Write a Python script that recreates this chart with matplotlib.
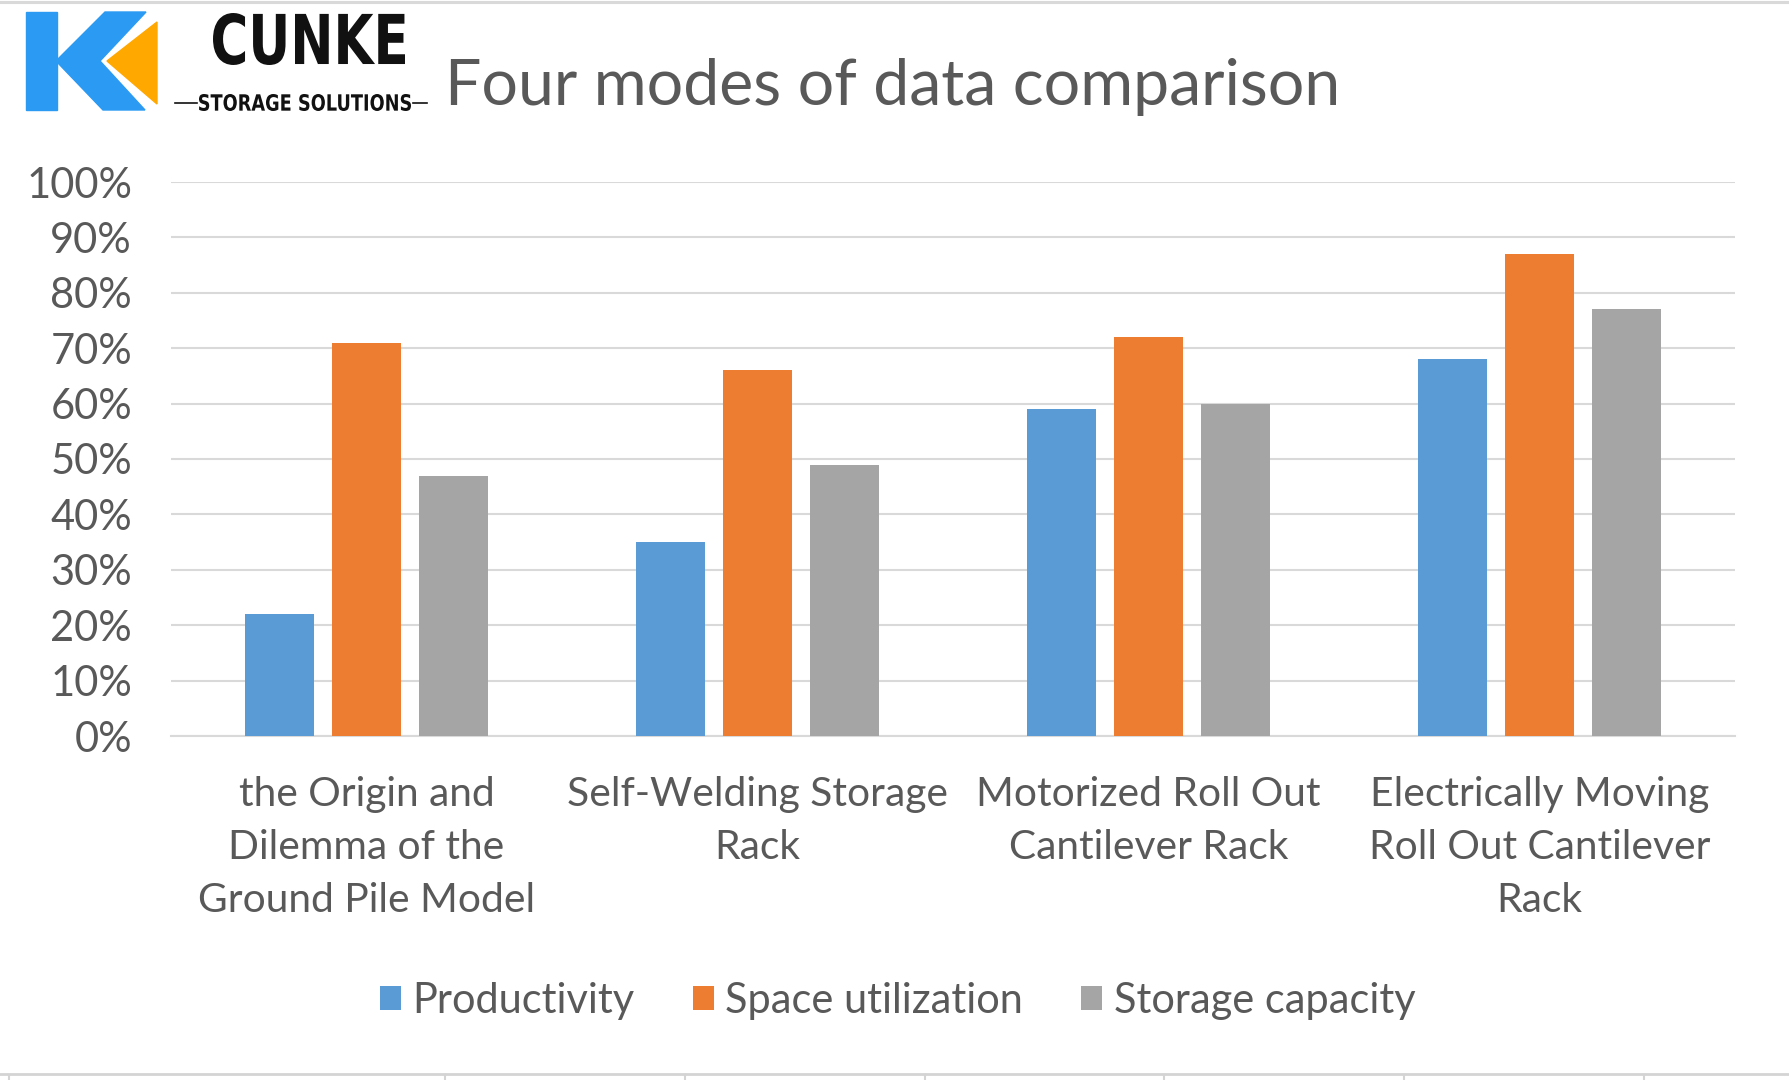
import numpy as np
import matplotlib
matplotlib.use("Agg")
import matplotlib.pyplot as plt
from matplotlib.patches import Polygon, PathPatch
from matplotlib.lines import Line2D
from matplotlib.textpath import TextPath
from matplotlib.font_manager import FontProperties
from matplotlib.transforms import Affine2D, IdentityTransform
from matplotlib.ticker import PercentFormatter

# data
categories = ["the Origin and\nDilemma of the\nGround Pile Model",
              "Self-Welding Storage\nRack",
              "Motorized Roll Out\nCantilever Rack",
              "Electrically Moving\nRoll Out Cantilever\nRack"]
series_names = ["Productivity", "Space utilization", "Storage capacity"]
productivity = [22, 35, 59, 68]
space_utilization = [71, 66, 72, 87]
storage_capacity = [47, 49, 60, 77]
y_ticks = [0, 10, 20, 30, 40, 50, 60, 70, 80, 90, 100]

colors = ["#5B9BD5", "#ED7D31", "#A5A5A5"]
text_col = "#595959"
grid_col = "#D9D9D9"

plt.rcParams["font.family"] = ["Lato", "DejaVu Sans"]

W, H = 1790, 1080
fig = plt.figure(figsize=(W / 100, H / 100), dpi=100)
fig.patch.set_facecolor("white")

# axes placed in pixel coords (top-down)
left, right, top, bottom = 171, 1735, 182, 736
ax = fig.add_axes([left / W, 1 - bottom / H, (right - left) / W, (bottom - top) / H])

x = np.arange(len(categories))
step, width = 0.222, 0.175
for i, (vals, col, name) in enumerate(zip([productivity, space_utilization, storage_capacity],
                                          colors, series_names)):
    ax.bar(x + (i - 1) * step, vals, width, color=col, label=name, zorder=3)

ax.set_xlim(-0.5, len(categories) - 0.5)
ax.set_ylim(0, 100)
ax.set_yticks(y_ticks)
ax.yaxis.set_major_formatter(PercentFormatter(decimals=0))
ax.grid(axis="y", color=grid_col, lw=1.5)
ax.set_axisbelow(True)
ax.axhline(0, color=grid_col, lw=1.5, zorder=2, clip_on=False)
for s in ax.spines.values():
    s.set_visible(False)
ax.tick_params(length=0, colors=text_col)
ax.tick_params(axis="y", pad=28, labelsize=30)
ax.tick_params(axis="x", pad=29, labelsize=29.3)
ax.set_xticks(x)
ax.set_xticklabels(categories, linespacing=1.53)

fig.legend(loc="center", bbox_to_anchor=(0.5015, 1 - 1001 / H), ncol=3, frameon=False,
           fontsize=29.9, handlelength=0.5, handleheight=0.5, handletextpad=0.28,
           columnspacing=1.4, labelcolor=text_col)

fig.text(445 / W, 1 - 105 / H, "Four modes of data comparison", fontsize=46.4,
         color=text_col, va="baseline", ha="left")

# ---- logo ----
pix = IdentityTransform()


def flip(pts):
    return [(px, H - py) for px, py in pts]


stem = [(26, 12), (57, 12), (57, 110), (26, 110)]
arms = [(57, 60), (105, 12), (146, 12), (100, 61), (145, 110), (103, 110), (57, 62)]
tri = [(107, 61), (157, 22), (157, 104)]
fig.add_artist(Polygon(flip(stem), closed=True, color="#2A9AF3", transform=pix))
fig.add_artist(Polygon(flip(arms), closed=True, color="#2A9AF3", transform=pix))
fig.add_artist(Polygon(flip(tri), closed=True, color="#FFA800", transform=pix))


def text_box(s, x0, y0, x1, y1, color="#111111"):
    # text squeezed into a pixel box, like the condensed logo font
    tp = TextPath((0, 0), s, size=100, prop=FontProperties(family="DejaVu Sans", weight="bold"))
    ext = tp.get_extents()
    tr = (Affine2D().translate(-ext.x0, -ext.y0)
          .scale((x1 - x0) / ext.width, (y1 - y0) / ext.height)
          .translate(x0, H - y1))
    fig.add_artist(PathPatch(tr.transform_path(tp), color=color, lw=0, transform=pix))


text_box("CUNKE", 213, 13, 405, 65)
text_box("STORAGE SOLUTIONS", 199, 94, 411, 111)
fig.add_artist(Line2D([175, 197], [H - 103, H - 103], color="#111111", lw=1.2, transform=pix))
fig.add_artist(Line2D([413, 427], [H - 103, H - 103], color="#111111", lw=1.2, transform=pix))

# sheet borders
fig.add_artist(Line2D([0, W], [H - 1.5, H - 1.5], color="#D9D9D9", lw=2.2, transform=pix))
fig.add_artist(Line2D([0, W], [H - 1074, H - 1074], color="#D4D4D4", lw=2.0, transform=pix))
for vx in [9, 445, 685, 925, 1164, 1404, 1644]:
    fig.add_artist(Line2D([vx, vx], [H - 1075, 0], color="#D4D4D4", lw=1.5, transform=pix))

fig.savefig("out.png", dpi=100)
